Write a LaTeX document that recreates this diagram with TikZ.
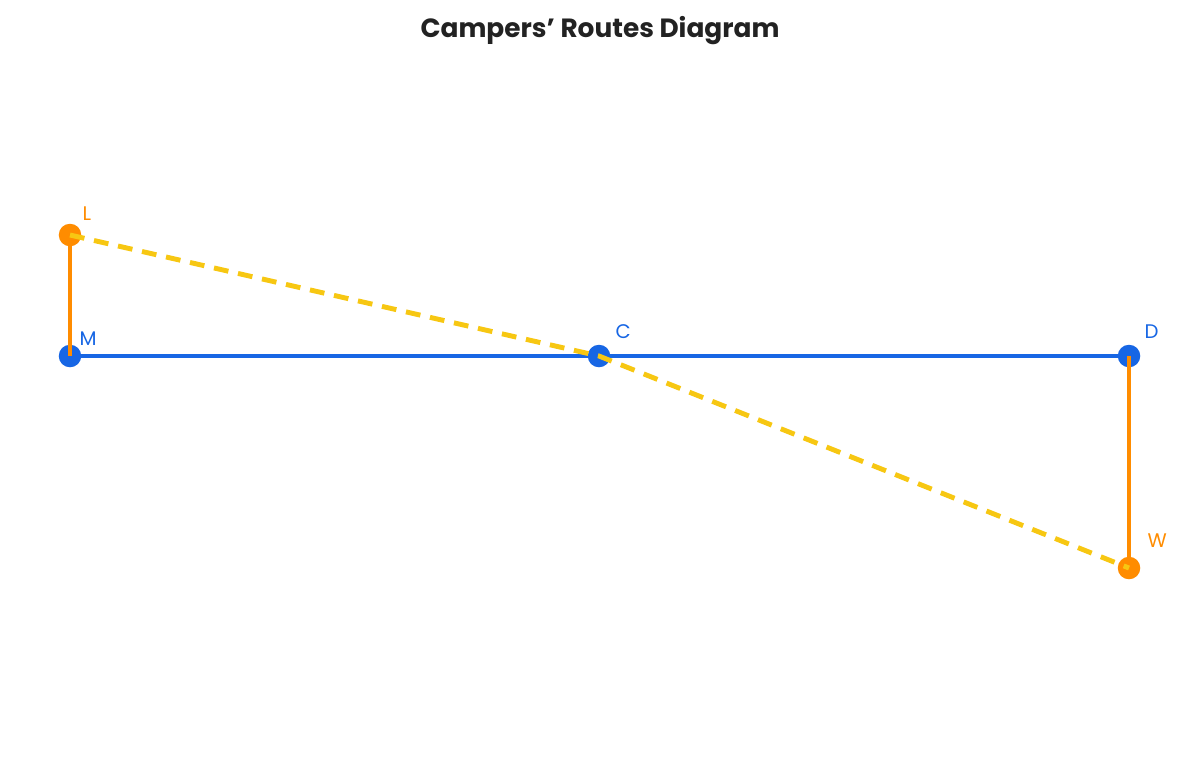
\documentclass[tikz,border=0pt]{standalone}
\usepackage{fontspec}
\setmainfont{Poppins}
\usepackage{xcolor}
\usepackage{tikz}
\definecolor{routeblue}{HTML}{1766E4}
\definecolor{routeorange}{HTML}{FF8C00}
\definecolor{routegold}{HTML}{F7C712}
\definecolor{titlegray}{HTML}{222222}

\begin{document}
\begin{tikzpicture}[x=0.01cm, y=-0.01cm,
  lbl/.style={anchor=south west, inner sep=0pt, font=\fontsize{5.6}{6}\selectfont}]
\useasboundingbox (0,0) rectangle (1200,763);
\coordinate (L) at (70,235);
\coordinate (M) at (70,356);
\coordinate (C) at (599,356);
\coordinate (D) at (1129,356);
\coordinate (W) at (1129,568);
\node[titlegray, font=\fontsize{7.5}{9}\bfseries] (title) at (600,31) {Campers’ Routes Diagram};
% stops
\fill[routeblue] (M) circle (3.2pt);
\fill[routeblue] (C) circle (3.2pt);
\fill[routeblue] (D) circle (3.2pt);
\fill[routeorange] (L) circle (3.2pt);
\fill[routeorange] (W) circle (3.2pt);
% routes
\draw[routeblue, line width=1.3pt] (M) -- (C) -- (D);
\draw[routeorange, line width=1.4pt] (L) -- (M);
\draw[routeorange, line width=1.4pt] (D) -- (W);
\draw[routegold, line width=1.4pt, dash pattern=on 4.2pt off 2.8pt] (L) -- (C) -- (W);
\node[lbl, routeorange] (lL) at (82,221) {L};
\node[lbl, routeblue] (lM) at (79,346) {M};
\node[lbl, routeblue] (lC) at (615,339) {C};
\node[lbl, routeblue] (lD) at (1144,339) {D};
\node[lbl, routeorange] (lW) at (1147,548) {W};
\end{tikzpicture}
\end{document}
